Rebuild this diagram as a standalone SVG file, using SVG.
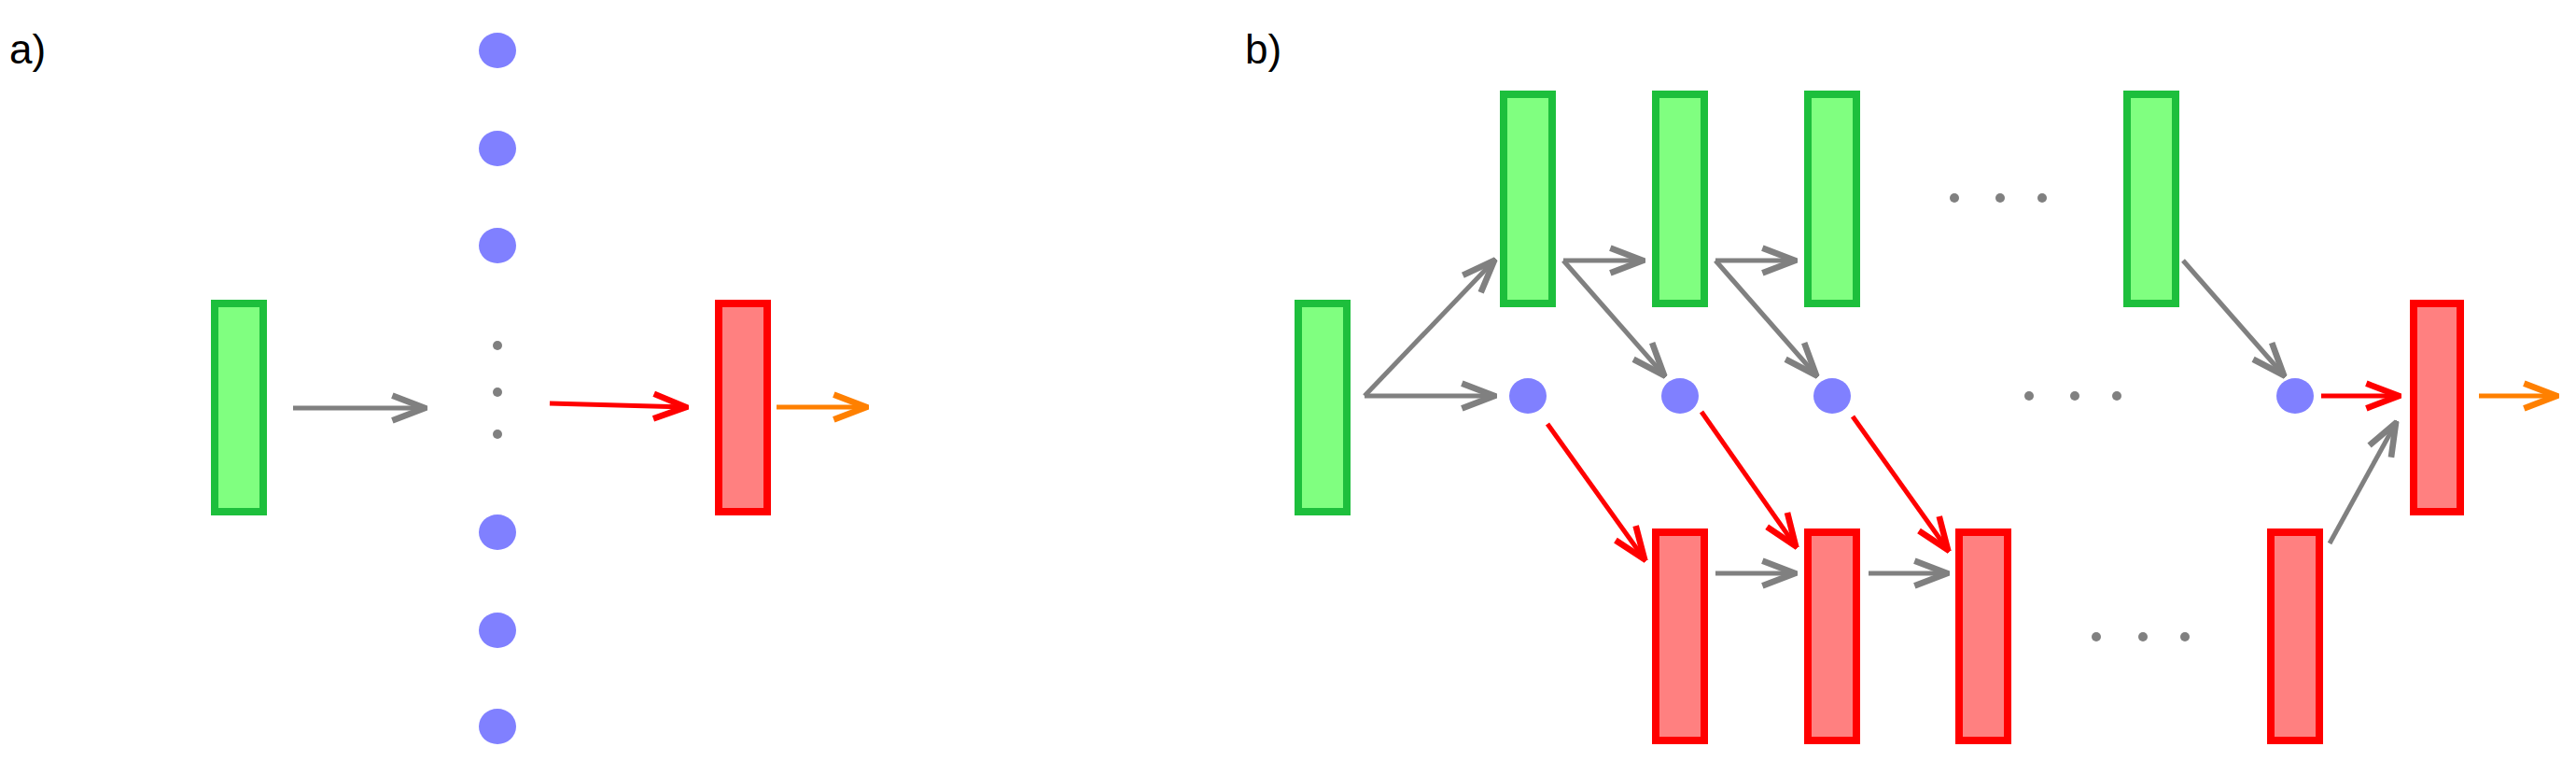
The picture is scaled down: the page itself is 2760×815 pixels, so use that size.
<svg xmlns="http://www.w3.org/2000/svg" width="2760" height="815" viewBox="0 0 2760 815">
<style>
.g{fill:#80ff80;stroke:#1dbf3c;stroke-width:8}
.r{fill:#ff8080;stroke:#ff0000;stroke-width:8}
.b{fill:#8080ff}
.d{fill:#808080}
.lbl{font-family:"Liberation Sans",Arial,sans-serif;font-size:44px;fill:#000}
.cg{stroke:#808080;stroke-width:5;fill:none;marker-end:url(#ag)}
.cr{stroke:#ff0000;stroke-width:5;fill:none;marker-end:url(#ar)}
.co{stroke:#ff8000;stroke-width:5;fill:none;marker-end:url(#ao)}
</style>
<defs>
<marker id="ag" markerUnits="userSpaceOnUse" markerWidth="40" markerHeight="40" viewBox="-2 -12 30 24" refX="26" refY="0" orient="auto"><path d="M0,-10 L26,0 L0,10" fill="none" stroke="#808080" stroke-width="5"/></marker>
<marker id="ar" markerUnits="userSpaceOnUse" markerWidth="40" markerHeight="40" viewBox="-2 -12 30 24" refX="26" refY="0" orient="auto"><path d="M0,-10 L26,0 L0,10" fill="none" stroke="#ff0000" stroke-width="5"/></marker>
<marker id="ao" markerUnits="userSpaceOnUse" markerWidth="40" markerHeight="40" viewBox="-2 -12 30 24" refX="26" refY="0" orient="auto"><path d="M0,-10 L26,0 L0,10" fill="none" stroke="#ff8000" stroke-width="5"/></marker>
</defs>
<text class="lbl" x="10" y="68">a)</text>
<text class="lbl" x="1334" y="68">b)</text>
<g id="a-in"><rect class="g" x="230" y="325" width="52" height="223"/></g>
<g id="a-out"><rect class="r" x="770" y="325" width="52" height="223"/></g>
<g id="a-units">
<ellipse class="b" cx="533" cy="54" rx="20" ry="19"/>
<ellipse class="b" cx="533" cy="159" rx="20" ry="19"/>
<ellipse class="b" cx="533" cy="263" rx="20" ry="19"/>
<circle class="d" cx="533" cy="370" r="5"/>
<circle class="d" cx="533" cy="420" r="5"/>
<circle class="d" cx="533" cy="465" r="5"/>
<ellipse class="b" cx="533" cy="570" rx="20" ry="19"/>
<ellipse class="b" cx="533" cy="675" rx="20" ry="19"/>
<ellipse class="b" cx="533" cy="778" rx="20" ry="19"/>
</g>
<g id="b-in"><rect class="g" x="1391" y="325" width="52" height="223"/></g>
<g id="b-g1"><rect class="g" x="1611" y="101" width="52" height="224"/></g>
<g id="b-g2"><rect class="g" x="1774" y="101" width="52" height="224"/></g>
<g id="b-g3"><rect class="g" x="1937" y="101" width="52" height="224"/></g>
<g id="b-g4"><rect class="g" x="2279" y="101" width="52" height="224"/></g>
<g id="b-r1"><rect class="r" x="1774" y="570" width="52" height="223"/></g>
<g id="b-r2"><rect class="r" x="1937" y="570" width="52" height="223"/></g>
<g id="b-r3"><rect class="r" x="2099" y="570" width="52" height="223"/></g>
<g id="b-r4"><rect class="r" x="2433" y="570" width="52" height="223"/></g>
<g id="b-out"><rect class="r" x="2586" y="325" width="50" height="223"/></g>
<g id="b-units">
<ellipse class="b" cx="1637" cy="424" rx="20" ry="19"/>
<ellipse class="b" cx="1800" cy="424" rx="20" ry="19"/>
<ellipse class="b" cx="1963" cy="424" rx="20" ry="19"/>
<ellipse class="b" cx="2459" cy="424" rx="20" ry="19"/>
</g>
<g id="ellipses">
<circle class="d" cx="2094" cy="212" r="5"/><circle class="d" cx="2143" cy="212" r="5"/><circle class="d" cx="2188" cy="212" r="5"/>
<circle class="d" cx="2174" cy="424" r="5"/><circle class="d" cx="2223" cy="424" r="5"/><circle class="d" cx="2268" cy="424" r="5"/>
<circle class="d" cx="2246" cy="682" r="5"/><circle class="d" cx="2296" cy="682" r="5"/><circle class="d" cx="2341" cy="682" r="5"/>
</g>
<g id="connectors">
<path class="cg" d="M314,437 L455,437"/>
<path class="cr" d="M589,432 L735,436"/>
<path class="co" d="M832,436 L928,436"/>
<path class="cg" d="M1462,424 L1601,279"/>
<path class="cg" d="M1462,424 L1601,424"/>
<path class="cg" d="M1675,279 L1760,279"/>
<path class="cg" d="M1675,279 L1783,402"/>
<path class="cg" d="M1838,279 L1923,279"/>
<path class="cg" d="M1838,279 L1946,402"/>
<path class="cg" d="M2339,279 L2447,402"/>
<path class="cr" d="M2487,424 L2570,424"/>
<path class="co" d="M2656,424 L2739,424"/>
<path class="cr" d="M1658,454 L1762,599"/>
<path class="cr" d="M1823,441 L1924,585"/>
<path class="cr" d="M1985,446 L2087,589"/>
<path class="cg" d="M1838,614 L1923,614"/>
<path class="cg" d="M2002,614 L2086,614"/>
<path class="cg" d="M2496,582 L2567,453"/>
</g>
</svg>
